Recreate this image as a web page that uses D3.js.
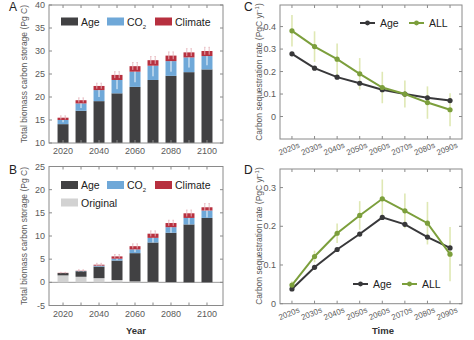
<!DOCTYPE html>
<html>
<head>
<meta charset="utf-8">
<script src="https://cdn.jsdelivr.net/npm/d3@7"></script>
<style>
  html, body { margin: 0; padding: 0; background: #fff; }
  svg { display: block; font-family: "Liberation Sans", Arial, Helvetica, sans-serif; }
</style>
</head>
<body>
<svg id="chart" width="474" height="340"></svg>
<script>
// ---- data ----
const years = [2020, 2030, 2040, 2050, 2060, 2070, 2080, 2090, 2100];
const yearTickLabels = [2020, 2040, 2060, 2080, 2100];

// Panel A: total biomass carbon storage (Pg C), stacked contributions
const ageA  = [14.1, 17.0, 19.1, 20.8, 22.2, 23.7, 24.6, 25.4, 26.0];
const co2A  = [0.9, 1.6, 2.4, 2.9, 3.3, 3.1, 3.2, 3.2, 2.9];
const climA = [0.5, 0.7, 0.9, 1.1, 1.2, 1.2, 1.2, 1.1, 1.1];
const co2ErrA  = [0.5, 1.0, 1.5, 2.0, 2.3, 2.3, 2.3, 2.2, 2.0];
const climErrA = [0.4, 0.5, 0.6, 0.7, 0.8, 0.8, 0.8, 0.8, 0.8];

// Panel B: newly planted contribution, with remaining original stock
const origB = [1.5, 1.2, 0.9, 0.5, 0.2, 0.1, 0.05, 0.0, 0.0];
const ageB  = [0.5, 1.2, 2.5, 4.2, 6.1, 8.5, 10.65, 12.5, 13.9];
const co2B  = [0.0, 0.05, 0.2, 0.4, 0.8, 1.0, 1.2, 1.4, 1.6];
const climB = [0.05, 0.05, 0.2, 0.5, 0.7, 0.9, 0.9, 1.0, 0.7];
const co2ErrB  = [0.0, 0.0, 0.1, 0.3, 0.6, 1.0, 1.2, 1.4, 1.5];
const climErrB = [0.1, 0.2, 0.3, 0.4, 0.5, 0.6, 0.6, 0.7, 0.8];

// Panels C and D: carbon sequestration rate (PgC yr-1) by decade
const decades = ["2020s", "2030s", "2040s", "2050s", "2060s", "2070s", "2080s", "2090s"];
const ageC = [0.279, 0.215, 0.175, 0.148, 0.119, 0.100, 0.083, 0.071];
const allC = [0.381, 0.311, 0.255, 0.190, 0.129, 0.100, 0.062, 0.030];
const allErrC = [0.07, 0.068, 0.07, 0.07, 0.07, 0.06, 0.072, 0.073];
const ageD = [0.038, 0.094, 0.140, 0.180, 0.223, 0.205, 0.172, 0.144];
const allD = [0.048, 0.122, 0.182, 0.228, 0.271, 0.240, 0.208, 0.128];
const allErrD = [0.01, 0.015, 0.025, 0.037, 0.05, 0.045, 0.055, 0.07];

const yTicksA = [10, 15, 20, 25, 30, 35, 40];
const yTicksB = [-5, 0, 5, 10, 15, 20, 25];
const yTicksC = [0, 0.1, 0.2, 0.3, 0.4];
const yTicksD = [0, 0.1, 0.2, 0.3];

// ---- styling ----
const COL = {
  age: "#414143", co2: "#6fa8d8", clim: "#b7303f", orig: "#d2d2d2",
  frame: "#8a8a8a", tick: "#5a5a5a", text: "#222",
  line: "#38383a", green: "#7c9f3c", greenErr: "#dfe8b4"
};

const svg = d3.select("#chart");

function frame(g, x0, x1, y0, y1) {
  g.append("rect").attr("x", x0).attr("y", y0).attr("width", x1 - x0).attr("height", y1 - y0)
    .attr("fill", "none").attr("stroke", COL.frame).attr("stroke-width", 1);
}

function yAxisTicks(g, y, ticks, x0, x1, fmt) {
  ticks.forEach(t => {
    const yy = y(t);
    g.append("line").attr("x1", x0).attr("x2", x0 + 3).attr("y1", yy).attr("y2", yy).attr("stroke", COL.frame);
    g.append("line").attr("x1", x1).attr("x2", x1 - 3).attr("y1", yy).attr("y2", yy).attr("stroke", COL.frame);
    g.append("text").attr("x", x0 - 4).attr("y", yy).attr("dy", "0.35em")
      .attr("text-anchor", "end").attr("font-size", 9).attr("fill", COL.tick).text(fmt(t));
  });
}

function panelLetter(letter, x, y) {
  svg.append("text").attr("x", x).attr("y", y).attr("font-size", 12).attr("fill", COL.text).text(letter);
}

function yTitle(text, x, yc, unitSup) {
  const t = svg.append("text").attr("transform", `translate(${x},${yc}) rotate(-90)`)
    .attr("text-anchor", "middle").attr("font-size", 8.5).attr("fill", COL.tick);
  if (unitSup) {
    t.append("tspan").text(text);
    t.append("tspan").attr("dy", -3).attr("font-size", 6).text(unitSup);
    t.append("tspan").attr("dy", 3).text(")");
  } else {
    t.text(text);
  }
}

// ---- stacked bar panels ----
function barPanel(opts) {
  const { x0, x1, y0, y1, domain, ticks, series, errs, zeroLine } = opts;
  const g = svg.append("g");
  const x = d3.scaleLinear().domain([2012.2, 2108.9]).range([x0, x1]);
  const y = d3.scaleLinear().domain(domain).range([y1, y0]).clamp(true);
  const bw = x(2026.1) - x(2020);

  const clip = "clip" + opts.id;
  svg.append("clipPath").attr("id", clip).append("rect")
    .attr("x", x0).attr("y", y0).attr("width", x1 - x0).attr("height", y1 - y0);
  const plot = g.append("g").attr("clip-path", `url(#${clip})`);

  if (zeroLine) {
    plot.append("line").attr("x1", x0).attr("x2", x1).attr("y1", y(0)).attr("y2", y(0))
      .attr("stroke", "#9a9a9a").attr("stroke-width", 1);
  }

  const stackKeys = series.map(s => s.key);
  const rows = years.map((yr, i) => {
    const r = { year: yr };
    series.forEach(s => { r[s.key] = s.values[i]; });
    return r;
  });
  const stacked = d3.stack().keys(stackKeys)(rows);

  stacked.forEach((layer, li) => {
    plot.selectAll(null).data(layer).enter().append("rect")
      .attr("x", d => x(d.data.year) - bw / 2)
      .attr("width", bw)
      .attr("y", d => y(d[1]))
      .attr("height", d => Math.max(0, y(d[0]) - y(d[1])))
      .attr("fill", series[li].color);
  });

  // uncertainty whiskers: CO2 contribution (white, inside bar) and climate (above bar)
  const blueTop = stacked[stacked.length - 2];
  const redTop = stacked[stacked.length - 1];
  years.forEach((yr, i) => {
    const cx = x(yr);
    const bt = blueTop[i][1];
    const e1 = errs.co2[i];
    if (e1 > 0) {
      plot.append("line").attr("x1", cx).attr("x2", cx)
        .attr("y1", y(bt - e1)).attr("y2", y(bt)).attr("stroke", "#f2f6fa").attr("stroke-width", 1);
    }
    const rt = redTop[i][1];
    const e2 = errs.clim[i];
    [-2.2, 2.2].forEach(dx => {
      plot.append("line").attr("x1", cx + dx).attr("x2", cx + dx)
        .attr("y1", y(rt - e2)).attr("y2", y(rt + e2))
        .attr("stroke", "#e7b9bf").attr("stroke-width", 0.9);
      plot.append("line").attr("x1", cx + dx - 0.8).attr("x2", cx + dx + 0.8)
        .attr("y1", y(rt + e2)).attr("y2", y(rt + e2))
        .attr("stroke", "#e7b9bf").attr("stroke-width", 0.8);
    });
  });

  frame(g, x0, x1, y0, y1);
  // x ticks every decade (bottom and top), labels every 20 years
  years.forEach(yr => {
    const xx = x(yr);
    g.append("line").attr("x1", xx).attr("x2", xx).attr("y1", y1).attr("y2", y1 - 3).attr("stroke", COL.frame);
    g.append("line").attr("x1", xx).attr("x2", xx).attr("y1", y0).attr("y2", y0 + 3).attr("stroke", COL.frame);
  });
  yearTickLabels.forEach(yr => {
    g.append("text").attr("x", x(yr)).attr("y", y1 + 11).attr("text-anchor", "middle")
      .attr("font-size", 9).attr("fill", COL.tick).text(yr);
  });
  yAxisTicks(g, y, ticks, x0, x1, d => d);
  return { x, y };
}

function swatch(x, y, color, label, sub) {
  svg.append("rect").attr("x", x).attr("y", y - 4.5).attr("width", 17).attr("height", 8).attr("fill", color);
  const t = svg.append("text").attr("x", x + 20).attr("y", y).attr("dy", "0.36em")
    .attr("font-size", 10.5).attr("fill", COL.text);
  t.append("tspan").text(label);
  if (sub) t.append("tspan").attr("dy", 3).attr("font-size", 6).text(sub);
}

// Panel A
barPanel({
  id: "A", x0: 49, x1: 223, y0: 5, y1: 143, domain: [10, 40], ticks: yTicksA,
  series: [
    { key: "age", values: ageA, color: COL.age },
    { key: "co2", values: co2A, color: COL.co2 },
    { key: "clim", values: climA, color: COL.clim }
  ],
  errs: { co2: co2ErrA, clim: climErrA }
});
swatch(61, 22, COL.age, "Age");
swatch(107, 22, COL.co2, "CO", "2");
swatch(155, 22, COL.clim, "Climate");

// Panel B
barPanel({
  id: "B", x0: 49, x1: 223, y0: 166.5, y1: 305.5, domain: [-5, 25], ticks: yTicksB, zeroLine: true,
  series: [
    { key: "orig", values: origB, color: COL.orig },
    { key: "age", values: ageB, color: COL.age },
    { key: "co2", values: co2B, color: COL.co2 },
    { key: "clim", values: climB, color: COL.clim }
  ],
  errs: { co2: co2ErrB, clim: climErrB }
});
swatch(61, 185.5, COL.age, "Age");
swatch(107, 185.5, COL.co2, "CO", "2");
swatch(155, 185.5, COL.clim, "Climate");
swatch(61, 203, COL.orig, "Original");

yTitle("Total biomass carbon storage (Pg C)", 27, 74);
yTitle("Total biomass carbon storage (Pg C)", 27, 236);
svg.append("text").attr("x", 136).attr("y", 334).attr("text-anchor", "middle")
  .attr("font-size", 9.5).attr("font-weight", "bold").attr("fill", "#333").text("Year");

// ---- line panels ----
function linePanel(opts) {
  const { x0, x1, y0, y1, domain, ticks, age, all, err, legendY } = opts;
  const g = svg.append("g");
  const x = d3.scalePoint().domain(decades).range([x0, x1]).padding(0.53);
  const y = d3.scaleLinear().domain(domain).range([y1, y0]);

  // error bars for ALL
  decades.forEach((d, i) => {
    g.append("line").attr("x1", x(d)).attr("x2", x(d))
      .attr("y1", y(all[i] - err[i])).attr("y2", y(all[i] + err[i]))
      .attr("stroke", COL.greenErr).attr("stroke-width", 1.6);
  });

  const line = d3.line().x((v, i) => x(decades[i])).y(v => y(v));
  [[age, COL.line], [all, COL.green]].forEach(([vals, col]) => {
    g.append("path").attr("d", line(vals)).attr("fill", "none")
      .attr("stroke", col).attr("stroke-width", 2);
    g.selectAll(null).data(vals).enter().append("circle")
      .attr("cx", (v, i) => x(decades[i])).attr("cy", v => y(v)).attr("r", 2.6).attr("fill", col);
  });

  frame(g, x0, x1, y0, y1);
  decades.forEach(d => {
    const xx = x(d);
    g.append("line").attr("x1", xx).attr("x2", xx).attr("y1", y1).attr("y2", y1 - 3).attr("stroke", COL.frame);
    g.append("line").attr("x1", xx).attr("x2", xx).attr("y1", y0).attr("y2", y0 + 3).attr("stroke", COL.frame);
    g.append("text").attr("transform", `translate(${xx + 6},${y1 + 3}) rotate(-22)`)
      .attr("text-anchor", "end").attr("dy", "0.72em").attr("font-size", 8).attr("fill", COL.tick).text(d);
  });
  yAxisTicks(g, y, ticks, x0, x1, d => d);

  // legend
  const lx = opts.legendX;
  [[lx, "Age", COL.line], [lx + 49, "ALL", COL.green]].forEach(([px, label, col]) => {
    g.append("line").attr("x1", px).attr("x2", px + 15).attr("y1", legendY).attr("y2", legendY)
      .attr("stroke", col).attr("stroke-width", 2);
    g.append("circle").attr("cx", px + 7.5).attr("cy", legendY).attr("r", 2.4).attr("fill", col);
    g.append("text").attr("x", px + 20).attr("y", legendY).attr("dy", "0.36em")
      .attr("font-size", 10.5).attr("fill", COL.text).text(label);
  });
}

linePanel({ x0: 280, x1: 462, y0: 5, y1: 139, domain: [-0.1, 0.496], ticks: yTicksC,
  age: ageC, all: allC, err: allErrC, legendX: 360, legendY: 23 });
linePanel({ x0: 280, x1: 462, y0: 169, y1: 303.7, domain: [0, 0.348], ticks: yTicksD,
  age: ageD, all: allD, err: allErrD, legendX: 353, legendY: 284 });

yTitle("Carbon sequestration rate (PgC yr", 262, 72, "-1");
yTitle("Carbon sequestration rate (PgC yr", 262, 236, "-1");
svg.append("text").attr("x", 383).attr("y", 334).attr("text-anchor", "middle")
  .attr("font-size", 9.5).attr("font-weight", "bold").attr("fill", "#333").text("Time");

panelLetter("A", 9, 11);
panelLetter("B", 9, 174);
panelLetter("C", 244, 11);
panelLetter("D", 244, 174);
</script>
</body>
</html>
